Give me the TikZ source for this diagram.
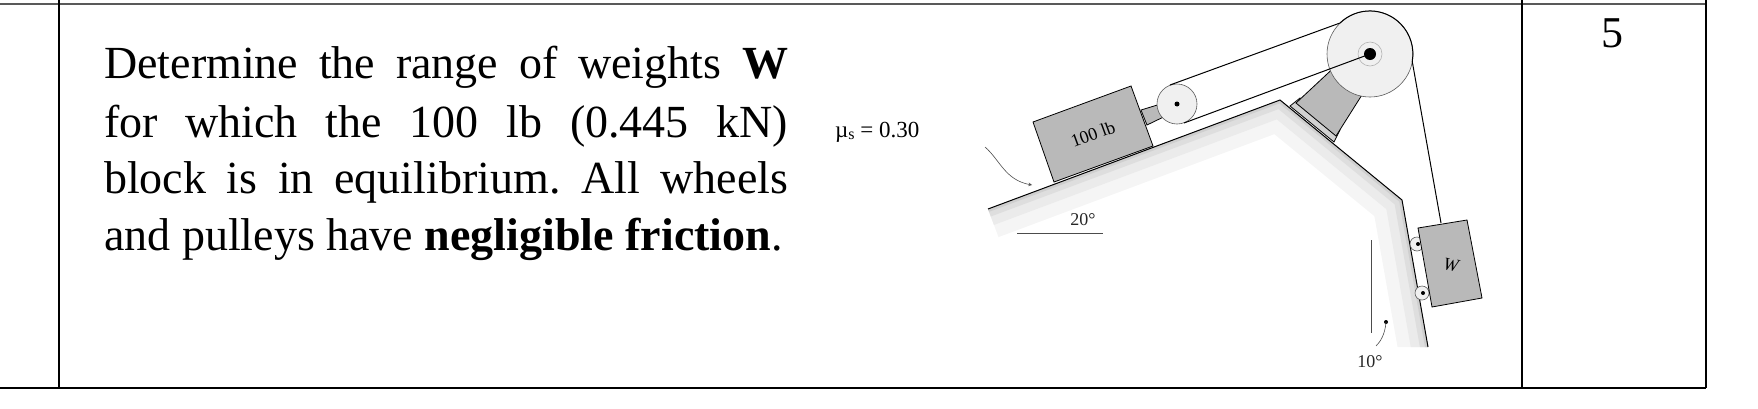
\documentclass[tikz,border=0pt]{standalone}
\usepackage{fontspec}
\setmainfont{Liberation Serif}
\begin{document}
\frenchspacing
\begin{tikzpicture}[x=1pt,y=-1pt,
  txt/.style={anchor=base west,inner sep=0pt,font=\fontsize{46}{50}\selectfont},
  part/.style={draw=black,fill=gray!55,line width=0.8pt},
  cable/.style={draw=black,line width=1pt},
  wheel/.style={draw=gray!70!black,fill=gray!12,line width=0.6pt}]
\useasboundingbox (0,0) rectangle (1758,408);
% table
\draw[line width=1.2pt,gray!70!black] (0,4) -- (1706,4);
\draw[line width=2pt] (0,388) -- (1706,388);
\draw[line width=1.2pt] (59,0) -- (59,388);
\draw[line width=1.5pt] (1522,0) -- (1522,388);
\draw[line width=2pt] (1706,0) -- (1706,388);
\node[anchor=base,inner sep=0pt,font=\fontsize{44}{50}\selectfont] (five) at (1612,47) {5};
% text
\node[txt] (l1) at (104,78) {\makebox[684pt][s]{Determine the range of weights \textbf{W}}};
\node[txt] (l2) at (104,137) {\makebox[684pt][s]{for which the 100 lb (0.445 kN)}};
\node[txt] (l3) at (104,193) {\makebox[684pt][s]{block is in equilibrium. All wheels}};
\node[txt] (l4) at (104,250) {and pulleys have \textbf{negligible friction}.};
\node[anchor=base west,inner sep=0pt,font=\fontsize{23}{26}\selectfont] (mu) at (835,137) {µ\raisebox{-0.2ex}{\fontsize{16}{18}\selectfont s} = 0.30};
% ground body shading
\begin{scope}
\clip (988,209) -- (1280,100) -- (1402,200) -- (1428,347) -- (988,347) -- cycle;
\draw[gray!8,line width=60pt] (988,209) -- (1280,100) -- (1402,200) -- (1428,347);
\draw[gray!16,line width=34pt] (988,209) -- (1280,100) -- (1402,200) -- (1428,347);
\draw[gray!26,line width=16pt] (988,209) -- (1280,100) -- (1402,200) -- (1428,347);
\draw[gray!38,line width=6pt] (988,209) -- (1280,100) -- (1402,200) -- (1428,347);
\end{scope}
\draw[line width=1pt] (988,209) -- (1280,100) -- (1402,200) -- (1428,347);
% support arm for big pulley
\draw[part,fill=gray!35] (1290,106) -- (1300,98) -- (1340,130) -- (1334,142) -- cycle;
\draw[part] (1296,103) -- (1356,47) -- (1384,60) -- (1336,136) -- cycle;
% big pulley
\draw[wheel] (1370,54) circle (43);
\draw[gray!60,line width=0.6pt] (1370,54) circle (12);
\fill (1370,54) circle (6);
% arm block -> small pulley
\draw[part] (1141,110) -- (1177,99) -- (1180,109) -- (1147,125) -- cycle;
% small pulley
\draw[wheel] (1177,104) circle (20);
\fill (1177,104) circle (2.5);
% cables
\draw[cable] (1170,85) -- (1340,23) arc[start angle=-134,end angle=10,radius=43] -- (1441,223);
\draw[cable] (1184,123) -- (1370,54);
% 100 lb block
\draw[part] (1033,122) -- (1131,86) -- (1153,146) -- (1054,182) -- cycle;
\node[rotate=20,font=\fontsize{18}{20}\selectfont] (blk) at (1093,134) {100 lb};
% W block with wheels
\draw[wheel] (1417,244) circle (7);
\draw[wheel] (1422,293) circle (7);
\fill (1418,244) circle (2); \fill (1423,293) circle (2);
\draw[part] (1418,228) -- (1467,220) -- (1482,298) -- (1432,307) -- cycle;
\node[rotate=-10,font=\itshape\fontsize{18}{20}\selectfont] (w) at (1451,265) {W};
% angle annotations
\draw[gray!60!black,line width=1pt] (1017,233) -- (1103,233);
\node[font=\fontsize{18}{20}\selectfont,gray!30!black] (a20) at (1083,220) {20°};
\draw[gray!60!black,line width=0.8pt] (1371,240) -- (1371,333);
\fill (1386,322) circle (2);
\draw[gray!60!black,line width=0.6pt] (1386,322) .. controls (1385,335) and (1380,342) .. (1376,346);
\node[font=\fontsize{18}{20}\selectfont,gray!30!black] (a10) at (1370,362) {10°};
% friction leader
\draw[gray!60!black,line width=0.6pt,-stealth] (985,147) .. controls (1000,160) and (1005,180) .. (1032,185);
\end{tikzpicture}
\end{document}
